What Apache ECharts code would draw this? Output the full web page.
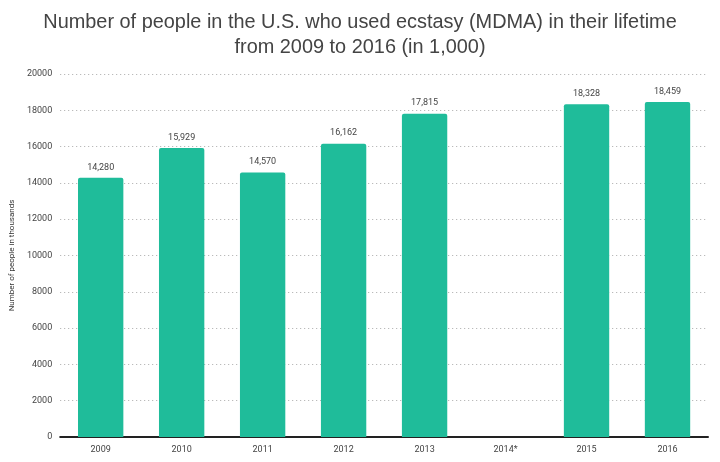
<!DOCTYPE html>
<html><head><meta charset="utf-8">
<script src="https://cdn.jsdelivr.net/npm/echarts@6/dist/echarts.min.js"></script>
<style>html,body{margin:0;padding:0;background:#fff}#c{width:720px;height:462px}</style>
</head><body><div id="c"></div>
<script>
const categories = ['2009','2010','2011','2012','2013','2014*','2015','2016'];
const values = [14280, 15929, 14570, 16162, 17815, null, 18328, 18459];
const yTicks = [0, 2000, 4000, 6000, 8000, 10000, 12000, 14000, 16000, 18000, 20000];

const chart = echarts.init(document.getElementById('c'));
chart.setOption({
  animation: false,
  title: {
    text: 'Number of people in the U.S. who used ecstasy (MDMA) in their lifetime\nfrom 2009 to 2016 (in 1,000)',
    left: 'center', top: 5,
    textStyle: {fontFamily: '"Liberation Sans", Arial, sans-serif', fontSize: 19.9, fontWeight: 'normal', color: '#444', lineHeight: 25}
  },
  grid: {left: 54, right: 12, top: 74, bottom: 25, containLabel: false},
  xAxis: {
    type: 'category', data: categories,
    axisLine: {lineStyle: {color: '#222', width: 2}},
    axisTick: {show: false},
    axisLabel: {color: '#444', fontSize: 9, fontFamily: 'Roboto, Arial, sans-serif', margin: 8}
  },
  yAxis: {
    type: 'value', min: yTicks[0], max: yTicks[yTicks.length-1], interval: 2000,
    name: 'Number of people in thousands', nameLocation: 'middle', nameGap: 37,
    nameTextStyle: {fontSize: 8, color: '#333', fontFamily: 'Roboto, Arial, sans-serif'},
    axisLine: {show: false}, axisTick: {show: false},
    axisLabel: {color: '#444', fontSize: 9, fontFamily: 'Roboto, Arial, sans-serif', margin: 8,
      formatter: v => String(v)},
    splitLine: {lineStyle: {color: '#aaa', type: [1, 3], width: 1}}
  },
  series: [{
    type: 'bar', data: values, barWidth: '56%',
    itemStyle: {color: '#1fbc9a', borderRadius: [2,2,0,0]},
    label: {show: true, position: 'top', distance: 6, color: '#444', fontSize: 9,
      fontFamily: 'Roboto, Arial, sans-serif',
      formatter: p => p.value == null ? '' : p.value.toLocaleString('en-US')}
  }]
});
</script></body></html>
